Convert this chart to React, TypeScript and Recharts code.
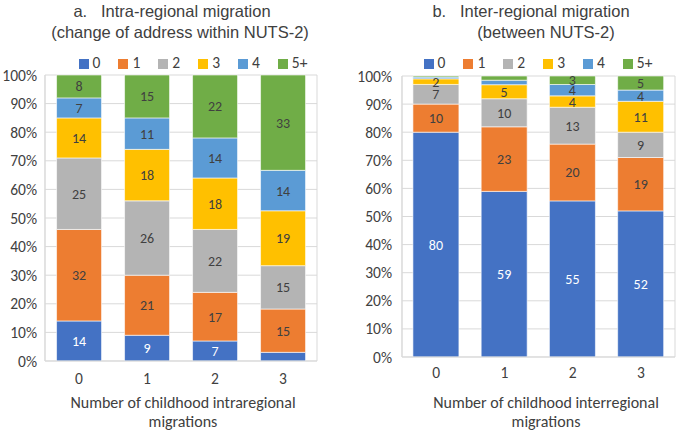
import { BarChart, Bar, XAxis, YAxis, CartesianGrid, Legend, LabelList } from 'recharts'

const categories = ['0', '1', '2', '3']
const seriesNames = ['0', '1', '2', '3', '4', '5+']
const COLORS = ['#4472C4', '#ED7D31', '#B4B4B4', '#FFC000', '#5B9BD5', '#70AD47']
const yTicks = [0, 0.1, 0.2, 0.3, 0.4, 0.5, 0.6, 0.7, 0.8, 0.9, 1]

// a. intra-regional, one array per legend entry (values per category 0..3)
const intra0 = [14, 9, 7, 3]
const intra1 = [32, 21, 17, 15]
const intra2 = [25, 26, 22, 15]
const intra3 = [14, 18, 18, 19]
const intra4 = [7, 11, 14, 14]
const intra5 = [8, 15, 22, 33]

// b. inter-regional
const inter0 = [80, 59, 55, 52]
const inter1 = [10, 23, 20, 19]
const inter2 = [7, 10, 13, 9]
const inter3 = [2, 5, 4, 11]
const inter4 = [0.6, 1.6, 4, 4]
const inter5 = [0.4, 1.5, 3, 5]

const FONT = 'Carlito, Lato, sans-serif'
const TEXT = '#404040'

function buildRows(series: number[][]) {
  return categories.map((cat, i) => {
    const row: Record<string, string | number> = { cat }
    series.forEach((s, k) => {
      row['s' + k] = s[i]
    })
    return row
  })
}

const intraRows = buildRows([intra0, intra1, intra2, intra3, intra4, intra5])
const interRows = buildRows([inter0, inter1, inter2, inter3, inter4, inter5])

interface PanelProps {
  data: Record<string, string | number>[]
  left: number
  margin: { top: number; right: number; bottom: number; left: number }
  yWidth: number
  yTickMargin: number
  xTickMargin: number
  gap: string
  minLabel: number
  legendLeft: number
  legendGap: number
}

function Panel({ data, left, margin, yWidth, yTickMargin, xTickMargin, gap, minLabel, legendLeft, legendGap }: PanelProps) {
  return (
    <div style={{ position: 'absolute', left, top: 0 }}>
      <BarChart width={340} height={431} data={data} margin={margin} stackOffset="expand" barCategoryGap={gap}>
        <CartesianGrid
          stroke="#D9D9D9"
          verticalCoordinatesGenerator={({ offset }: any) => [offset.left, offset.left + offset.width]}
        />
        <XAxis
          dataKey="cat"
          tickLine={false}
          axisLine={{ stroke: '#D9D9D9' }}
          tickMargin={xTickMargin}
          tick={{ fill: TEXT, fontSize: 15.5, fontFamily: FONT }}
        />
        <YAxis
          width={yWidth}
          domain={[0, 1]}
          ticks={yTicks}
          interval={0}
          tickLine={false}
          axisLine={{ stroke: '#D9D9D9' }}
          tickMargin={yTickMargin}
          tickFormatter={(v: number) => Math.round(v * 100) + '%'}
          tick={{ fill: TEXT, fontSize: 15.5, fontFamily: FONT }}
        />
        <Legend
          layout="horizontal"
          verticalAlign="middle"
          align="center"
          iconType="square"
          iconSize={10}
          wrapperStyle={{ top: 53, left: legendLeft, width: 340, fontFamily: FONT, fontSize: 15.5 }}
          formatter={(value: string) => <span style={{ color: TEXT, marginRight: legendGap }}>{value}</span>}
        />
        {seriesNames.map((name, k) => (
          <Bar
            key={name}
            dataKey={'s' + k}
            name={name}
            stackId="a"
            fill={COLORS[k]}
            stroke="#ffffff"
            strokeWidth={0.6}
            isAnimationActive={false}
          >
            <LabelList
              dataKey={'s' + k}
              position="center"
              formatter={(v: any) => (Number(v) >= minLabel ? String(Math.round(Number(v))) : '')}
              style={{ fill: k === 0 ? '#ffffff' : TEXT, fontSize: 14, fontFamily: FONT }}
            />
          </Bar>
        ))}
      </BarChart>
    </div>
  )
}

const titleStyle: React.CSSProperties = {
  position: 'absolute',
  fontFamily: '"Liberation Sans", Arial, sans-serif',
  fontSize: 16.5,
  color: TEXT,
  whiteSpace: 'nowrap',
  transform: 'translateX(-50%)',
  lineHeight: '21px',
}

const axisTitleStyle: React.CSSProperties = {
  position: 'absolute',
  fontFamily: FONT,
  fontSize: 16,
  color: TEXT,
  whiteSpace: 'nowrap',
  transform: 'translateX(-50%)',
  textAlign: 'center',
  lineHeight: '19px',
}

export default function App() {
  return (
    <div style={{ position: 'absolute', left: 0, top: 0, width: 685, height: 431, background: '#fff' }}>
      <Panel
        data={intraRows}
        left={0}
        margin={{ top: 75, right: 23, bottom: 40, left: 0 }}
        yWidth={45}
        yTickMargin={2}
        xTickMargin={6}
        gap="17%"
        minLabel={5}
        legendLeft={32}
        legendGap={8}
      />
      <Panel
        data={interRows}
        left={345}
        margin={{ top: 76, right: 10, bottom: 44, left: 0 }}
        yWidth={57}
        yTickMargin={4}
        xTickMargin={4}
        gap="16%"
        minLabel={2}
        legendLeft={32}
        legendGap={8}
      />
      <div style={{ ...titleStyle, left: 172, top: 1 }}>a.&nbsp;&nbsp;&nbsp;Intra-regional migration</div>
      <div style={{ ...titleStyle, left: 180, top: 22 }}>(change of address within NUTS-2)</div>
      <div style={{ ...titleStyle, left: 531, top: 1 }}>b.&nbsp;&nbsp;&nbsp;Inter-regional migration</div>
      <div style={{ ...titleStyle, left: 546, top: 22 }}>(between NUTS-2)</div>
      <div style={{ ...axisTitleStyle, left: 183, top: 393 }}>
        Number of childhood intraregional
        <br />
        migrations
      </div>
      <div style={{ ...axisTitleStyle, left: 546, top: 393 }}>
        Number of childhood interregional
        <br />
        migrations
      </div>
    </div>
  )
}
